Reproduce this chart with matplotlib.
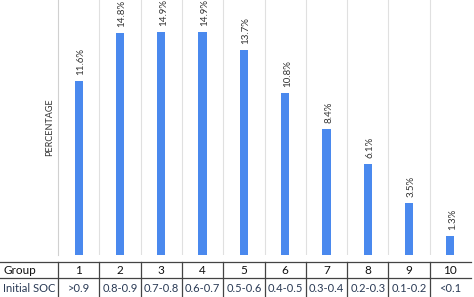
import matplotlib
matplotlib.use("Agg")
import matplotlib.pyplot as plt
import matplotlib.transforms as mtransforms
from matplotlib.lines import Line2D

groups = ["1", "2", "3", "4", "5", "6", "7", "8", "9", "10"]
initial_soc = [">0.9", "0.8-0.9", "0.7-0.8", "0.6-0.7", "0.5-0.6",
               "0.4-0.5", "0.3-0.4", "0.2-0.3", "0.1-0.2", "<0.1"]
percentages = [11.6, 14.8, 14.9, 14.9, 13.7, 10.8, 8.4, 6.1, 3.5, 1.3]

plt.rcParams['font.family'] = ['Lato', 'DejaVu Sans']

W, H = 474, 297
fig = plt.figure(figsize=(W / 100, H / 100), dpi=100)
ax = fig.add_axes([58 / W, 42 / H, 413 / W, 255 / H])

x = list(range(1, len(groups) + 1))
bars = ax.bar(x, percentages, width=0.2, color="#4A89EE", zorder=3)
ax.set_xlim(0.5, len(groups) + 0.5)
ax.set_ylim(0, 17)

for xi, v in zip(x, percentages):
    ax.annotate(f"{v:.1f}%", (xi, v), xytext=(1.5, 4), textcoords="offset points",
                rotation=90, ha="center", va="bottom", fontsize=7, color="#333333")

for s in ["top", "right", "bottom"]:
    ax.spines[s].set_visible(False)
ax.spines["left"].set_color("#d0d0d0")
ax.spines["left"].set_linewidth(0.8)
ax.set_xticks([])
ax.set_yticks([])
for b in [i + 0.5 for i in range(1, len(groups))]:
    ax.axvline(b, color="#e0e0e0", lw=0.8, zorder=1)

ax.set_ylabel("PERCENTAGE", fontsize=6.5, color="#333333", labelpad=3)

# data table below the chart
trans = mtransforms.blended_transform_factory(ax.transData, ax.transAxes)
def yax(px):
    return (255 - px) / 255

for i, (g, s) in enumerate(zip(groups, initial_soc)):
    ax.text(x[i], yax(270), g, transform=trans, ha="center", va="center",
            fontsize=8.5, color="#111111", clip_on=False)
    ax.text(x[i], yax(288), s, transform=trans, ha="center", va="center",
            fontsize=8, color="#2a3a55", clip_on=False)

for b in [i + 0.5 for i in range(0, len(groups))]:
    ax.add_line(Line2D([b, b], [yax(262), yax(297)], transform=trans,
                       color="#444444", lw=0.9, clip_on=False))

for ypx in [262, 278]:
    fig.add_artist(Line2D([0, 471 / W], [1 - ypx / H, 1 - ypx / H],
                          transform=fig.transFigure, color="#444444", lw=0.9))

fig.text(3 / W, 1 - 270 / H, "Group", ha="left", va="center", fontsize=8.5, color="#111111")
fig.text(3 / W, 1 - 288 / H, "Initial SOC", ha="left", va="center", fontsize=8, color="#2a3a55")

fig.savefig("out.png", dpi=100)
